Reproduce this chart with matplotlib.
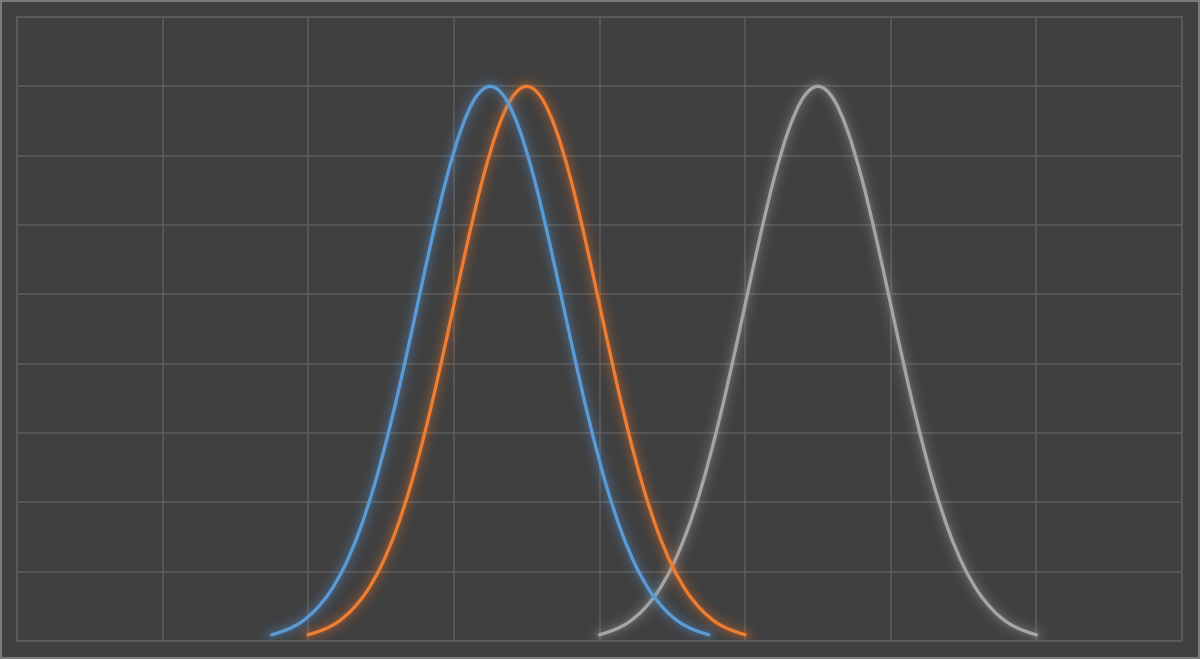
import numpy as np
import matplotlib
matplotlib.use("Agg")
import matplotlib.pyplot as plt
from matplotlib.path import Path
from matplotlib.patches import PathPatch

# heights, at steps of 0.1 from the left end of each curve
heights = [0.09, 0.16, 0.27, 0.45, 0.71, 1.08, 1.58, 2.22, 3.00, 3.89, 4.85,
           5.81, 6.68, 7.38, 7.84, 8.00, 7.84, 7.38, 6.68, 5.81, 4.85, 3.89,
           3.00, 2.22, 1.58, 1.08, 0.71, 0.45, 0.27, 0.16, 0.09]

# left end of each curve in grid units
blue_start = 1.75
orange_start = 2.0
gray_start = 4.0
steps = [i / 10 for i in range(len(heights))]

blue_x = [blue_start + s for s in steps]
orange_x = [orange_start + s for s in steps]
gray_x = [gray_start + s for s in steps]

bg = "#404040"
fig = plt.figure(figsize=(12, 6.59), dpi=100, facecolor=bg)
ax = fig.add_axes([17 / 1200, 18 / 659, 1165 / 1200, 624 / 659])
ax.set_facecolor(bg)

ax.set_xlim(0, 8)
ax.set_ylim(0, 9)
ax.set_xticks(range(9))
ax.set_yticks(range(10))
ax.tick_params(length=0, labelbottom=False, labelleft=False)
ax.grid(True, color="#5e5e5e", linewidth=1.1)
ax.set_axisbelow(True)
for sp in ax.spines.values():
    sp.set_color("#5e5e5e")
    sp.set_linewidth(1.1)


def smooth_path(x, y):
    # smoothed line like a spreadsheet "smooth line" (catmull-rom as beziers)
    p = np.column_stack([x, y])
    ext = np.vstack([p[0], p, p[-1]])
    verts = [p[0]]
    codes = [Path.MOVETO]
    for i in range(1, len(ext) - 2):
        c1 = ext[i] + (ext[i + 1] - ext[i - 1]) / 6
        c2 = ext[i + 1] - (ext[i + 2] - ext[i]) / 6
        verts += [c1, c2, ext[i + 1]]
        codes += [Path.CURVE4] * 3
    return Path(verts, codes)


def glow_line(x, y, color):
    path = smooth_path(x, y)
    # soft halo first, then the line itself
    for w, a in [(18, 0.03), (14, 0.04), (11, 0.05), (8, 0.07), (5.5, 0.09)]:
        ax.add_patch(PathPatch(path, fill=False, edgecolor=color, lw=w, alpha=a,
                               capstyle="round", joinstyle="round"))
    ax.add_patch(PathPatch(path, fill=False, edgecolor=color, lw=2.4,
                           capstyle="round", joinstyle="round"))


glow_line(gray_x, heights, "#a5a5a5")
glow_line(orange_x, heights, "#ed7d31")
glow_line(blue_x, heights, "#5b9bd5")

# thin frame round the whole picture
fig.patches.append(plt.Rectangle((0.0005, 0.001), 0.999, 0.998, transform=fig.transFigure,
                                 fill=False, edgecolor="#7a7a7a", linewidth=1.5))

fig.savefig("out.png", dpi=100, facecolor=bg)
